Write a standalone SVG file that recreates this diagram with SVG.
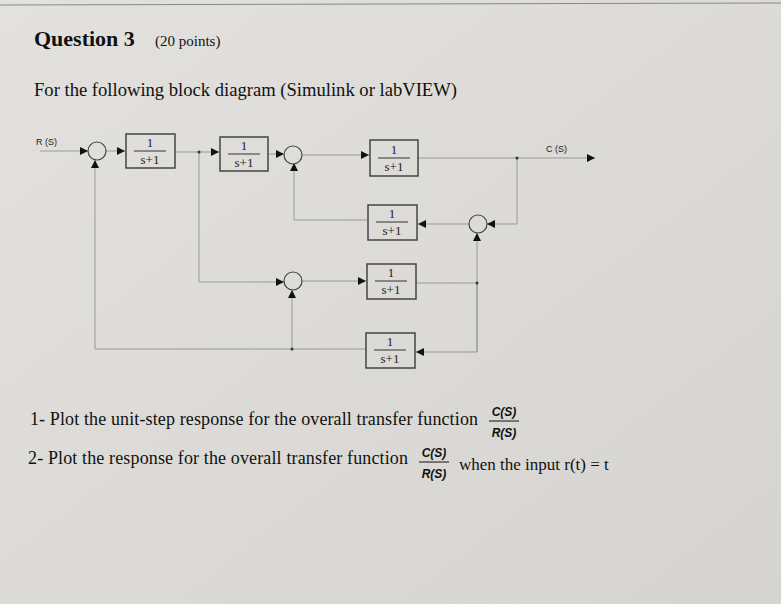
<svg xmlns="http://www.w3.org/2000/svg" width="781" height="604" viewBox="0 0 781 604">
<defs>
<linearGradient id="bg" x1="0" y1="0" x2="1" y2="1"><stop offset="0" stop-color="#e2e1de"/><stop offset="1" stop-color="#d6d4d0"/></linearGradient>
<marker id="a" markerWidth="8" markerHeight="8" refX="8" refY="4" orient="auto" markerUnits="userSpaceOnUse"><path d="M0,0 L8,4 L0,8 Z" fill="#111"/></marker>
</defs>
<style>
.t{font-family:"Liberation Serif",serif;fill:#111}
.s{font-family:"Liberation Sans",sans-serif;fill:#222;font-size:9px}
.b rect{fill:none;stroke:#444;stroke-width:1.5}
.b text{font-family:"Liberation Serif",serif;font-size:13px;fill:#222;text-anchor:middle}
.b line{stroke:#333;stroke-width:1}
.c circle{fill:none;stroke:#444;stroke-width:1.2}
#wires path{fill:none;stroke:#999;stroke-width:1}
</style>
<rect width="781" height="604" fill="url(#bg)"/>
<line x1="0" y1="5" x2="781" y2="3" stroke="#888" stroke-width="1"/>
<text class="t" x="34" y="46" font-size="22" font-weight="bold">Question 3</text>
<text class="t" x="155" y="46" font-size="15">(20 points)</text>
<text class="t" x="34" y="96" font-size="18.6">For the following block diagram (Simulink or labVIEW)</text>
<text class="s" x="36" y="145">R (S)</text>
<text class="s" x="546" y="152">C (S)</text>
<g id="wires">
<path d="M40,151 H88" marker-end="url(#a)"/>
<path d="M106,151 H125" marker-end="url(#a)"/>
<path d="M175,152 H219" marker-end="url(#a)"/>
<path d="M268,154 H284" marker-end="url(#a)"/>
<path d="M302,155 H369" marker-end="url(#a)"/>
<path d="M418,158 H595" marker-end="url(#a)"/>
<path d="M517,158 V224 H487" marker-end="url(#a)"/>
<path d="M469,224 H418" marker-end="url(#a)"/>
<path d="M367,220 H294 V163" marker-end="url(#a)"/>
<path d="M199,152 V282 H284" marker-end="url(#a)"/>
<path d="M302,281 H366" marker-end="url(#a)"/>
<path d="M416,283 H475"/>
<path d="M477,352 V233" marker-end="url(#a)"/>
<path d="M477,283 V352 H416" marker-end="url(#a)"/>
<path d="M366,349 H95 V160" marker-end="url(#a)"/>
<path d="M292,349 V290" marker-end="url(#a)"/>
<circle cx="199" cy="152" r="1.5" fill="#333"/>
<circle cx="517" cy="158" r="1.5" fill="#333"/>
<circle cx="477" cy="283" r="1.5" fill="#333"/>
<circle cx="292" cy="349" r="1.5" fill="#333"/>
</g>
<g id="sum1" class="c"><circle cx="97" cy="151" r="9"/></g>
<g id="sum2" class="c"><circle cx="293" cy="155" r="9"/></g>
<g id="sum3" class="c"><circle cx="293" cy="281" r="9"/></g>
<g id="sum4" class="c"><circle cx="478" cy="224" r="9"/></g>
<g id="G1" class="b"><rect x="126" y="134" width="49" height="34"/><text x="150" y="147">1</text><line x1="134" y1="151" x2="166" y2="151"/><text x="150" y="164">s+1</text></g>
<g id="G2" class="b"><rect x="220" y="137" width="48" height="34"/><text x="244" y="150">1</text><line x1="228" y1="154" x2="260" y2="154"/><text x="244" y="167">s+1</text></g>
<g id="G3" class="b"><rect x="370" y="140" width="48" height="36"/><text x="394" y="154">1</text><line x1="378" y1="158" x2="410" y2="158"/><text x="394" y="171">s+1</text></g>
<g id="G4" class="b"><rect x="368" y="205" width="49" height="35"/><text x="392" y="218">1</text><line x1="376" y1="222" x2="408" y2="222"/><text x="392" y="235">s+1</text></g>
<g id="G5" class="b"><rect x="367" y="264" width="49" height="35"/><text x="391" y="277">1</text><line x1="375" y1="281" x2="407" y2="281"/><text x="391" y="294">s+1</text></g>
<g id="G6" class="b"><rect x="366" y="333" width="49" height="35"/><text x="390" y="346">1</text><line x1="374" y1="350" x2="406" y2="350"/><text x="390" y="363">s+1</text></g>
<text class="t" x="30" y="425" font-size="18" textLength="448">1- Plot the unit-step response for the overall transfer function</text>
<text x="504" y="416" font-family="Liberation Sans,sans-serif" font-size="12" font-weight="bold" font-style="italic" text-anchor="middle" fill="#111">C(S)</text>
<line x1="489" y1="421" x2="519" y2="421" stroke="#111"/>
<text x="504" y="437" font-family="Liberation Sans,sans-serif" font-size="12" font-weight="bold" font-style="italic" text-anchor="middle" fill="#111">R(S)</text>
<text class="t" x="28" y="464" font-size="18" textLength="380">2- Plot the response for the overall transfer function</text>
<text x="434" y="457" font-family="Liberation Sans,sans-serif" font-size="12" font-weight="bold" font-style="italic" text-anchor="middle" fill="#111">C(S)</text>
<line x1="419" y1="462" x2="449" y2="462" stroke="#111"/>
<text x="434" y="478" font-family="Liberation Sans,sans-serif" font-size="12" font-weight="bold" font-style="italic" text-anchor="middle" fill="#111">R(S)</text>
<text class="t" x="459" y="470" font-size="17">when the input r(t) = t</text>
</svg>
